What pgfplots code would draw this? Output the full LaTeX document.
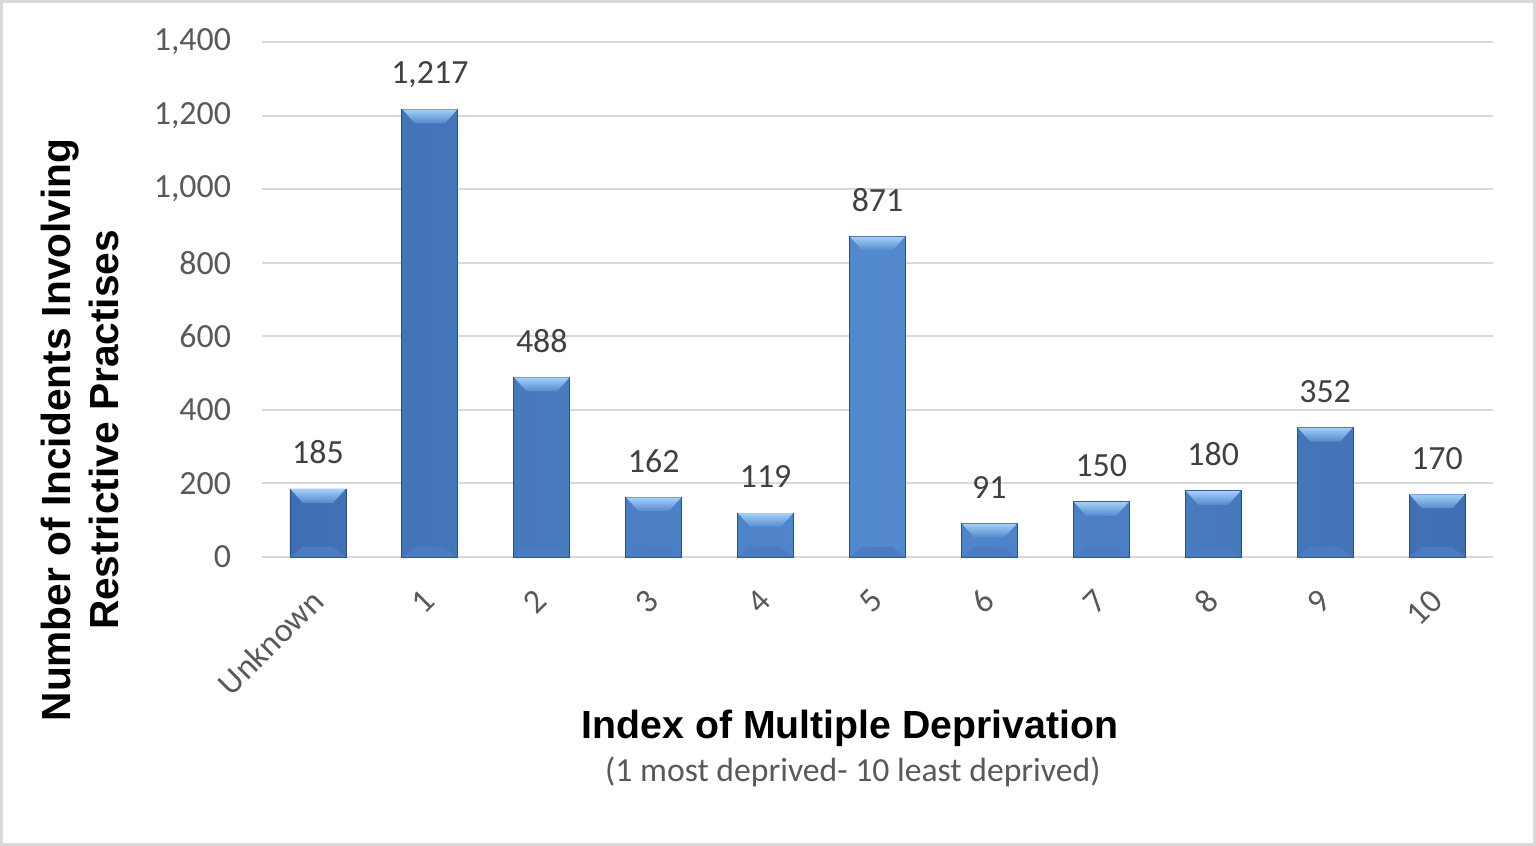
\documentclass[border=0pt]{standalone}
\usepackage{pgfplots}
\pgfplotsset{compat=1.18}
\usepackage{fontspec}
\setmainfont{Carlito}
\newfontfamily\arialfont{Liberation Sans}
\definecolor{tickgray}{HTML}{595959}
\definecolor{lblgray}{HTML}{404040}
\definecolor{gridgray}{HTML}{D9D9D9}
\definecolor{barmid}{HTML}{5389CD}
\definecolor{barside}{HTML}{406EB2}
\definecolor{barlight}{HTML}{A2D0F8}
\definecolor{bardark}{HTML}{4A7DC0}
\definecolor{barborder}{HTML}{2B4E85}
\pgfdeclareverticalshading{bevshade}{100bp}{color(0bp)=(barmid); color(25bp)=(barmid); color(75bp)=(barlight); color(100bp)=(barlight)}
\pgfdeclareplotmark{bevtop}{%
  \pgfpathmoveto{\pgfqpoint{-13.8bp}{0bp}}%
  \pgfpathlineto{\pgfqpoint{13.8bp}{0bp}}%
  \pgfpathlineto{\pgfqpoint{7.5bp}{-7bp}}%
  \pgfpathlineto{\pgfqpoint{-7.5bp}{-7bp}}%
  \pgfpathclose\pgfshadepath{bevshade}{0}\pgfusepath{}}
\pgfdeclareplotmark{bevbot}{%
  \pgfpathmoveto{\pgfqpoint{-13.8bp}{0bp}}%
  \pgfpathlineto{\pgfqpoint{13.8bp}{0bp}}%
  \pgfpathlineto{\pgfqpoint{7.5bp}{5bp}}%
  \pgfpathlineto{\pgfqpoint{-7.5bp}{5bp}}%
  \pgfpathclose\pgfusepath{fill}}
\begin{document}
\begin{tikzpicture}
\useasboundingbox (0,0) rectangle (768bp,423bp);
\draw[gray!30, line width=1.5bp] (0.75bp,0.75bp) rectangle (767.25bp,422.25bp);
\begin{axis}[
  at={(131bp,144.5bp)}, anchor=south west,
  scale only axis, width=615.5bp, height=257.5bp,
  xmin=-0.5, xmax=10.5, ymin=0, ymax=1400,
  xtick={0,...,10},
  xticklabels={Unknown,1,2,3,4,5,6,7,8,9,10},
  ytick={0,200,...,1400},
  axis x line*=bottom, axis y line*=left,
  x axis line style={gridgray, line width=1bp, -},
  y axis line style={draw=none},
  ymajorgrids, grid style={gridgray, line width=1bp},
  major tick length=0pt,
  tick label style={font=\fontsize{17}{18}\selectfont, text=tickgray},
  /pgf/number format/assume math mode=true,
  /pgf/number format/1000 sep={,},
  yticklabel style={xshift=-12bp},
  xticklabel style={rotate=45, anchor=east, xshift=-10.2bp, yshift=-13.3bp},
  xlabel={\arialfont\bfseries Index of Multiple Deprivation},
  xlabel style={at={(rel axis cs:0.4777,-0.332)}, anchor=center, font=\fontsize{19.7}{22}\selectfont},
  ylabel={\arialfont\bfseries Number of Incidents Involving\\\arialfont\bfseries Restrictive Practises},
  ylabel style={at={(rel axis cs:-0.148,0.2466)}, anchor=center, align=center, font=\fontsize{20.4}{24}\selectfont},
  clip=false,
]
\addplot[ybar, bar width=28bp, draw=barborder, line width=0.4bp,
  left color=barside, right color=barside, middle color=barmid,
  nodes near coords,
  nodes near coords style={font=\fontsize{17}{18}\selectfont, text=lblgray, anchor=south, inner sep=0pt, text depth=0pt, yshift=12.5bp,
    /pgf/number format/assume math mode=true, /pgf/number format/1000 sep={,}},
] coordinates {
(0,185) (1,1217) (2,488) (3,162) (4,119) (5,871) (6,91) (7,150) (8,180) (9,352) (10,170)
};
\addplot[only marks, mark=bevtop, mark options={draw=none}] coordinates {
(0,185) (1,1217) (2,488) (3,162) (4,119) (5,871) (6,91) (7,150) (8,180) (9,352) (10,170)
};
\addplot[only marks, mark=bevbot, mark options={fill=bardark, draw=none}] coordinates {
(0,0) (1,0) (2,0) (3,0) (4,0) (5,0) (6,0) (7,0) (8,0) (9,0) (10,0)
};
\node[font=\fontsize{16.9}{18}\selectfont, text=tickgray] at (rel axis cs:0.48,-0.4175) {(1 most deprived- 10 least deprived)};
\end{axis}
\end{tikzpicture}
\end{document}
